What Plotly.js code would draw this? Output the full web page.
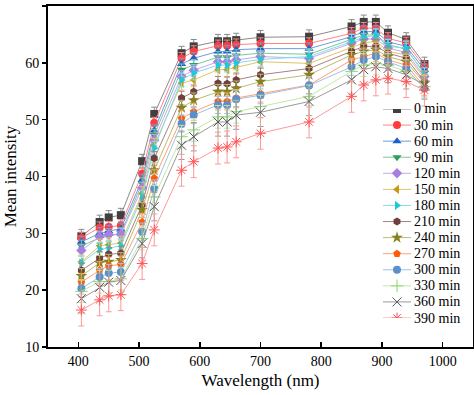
<!DOCTYPE html>
<html>
<head>
<meta charset="utf-8">
<script src="https://cdn.plot.ly/plotly-3.0.1.min.js"></script>
<style>html,body{margin:0;padding:0;background:#fff;}#chart{width:474px;height:395px;}</style>
</head>
<body>
<div id="chart"></div>
<script>
// ---- data ----
const wavelengths = [405,435,450,470,505,525,570,590,630,645,660,700,780,850,870,890,910,940,970];
const seriesNames = ["0 min","30 min","60 min","90 min","120 min","150 min","180 min","210 min","240 min","270 min","300 min","330 min","360 min","390 min"];
const s0   = [29.5,32.0,32.8,33.2,42.7,51.0,61.7,62.9,63.8,63.8,64.0,64.5,64.6,66.4,67.2,67.2,65.3,64.1,59.8];
const s30  = [29.2,31.0,31.1,31.4,40.5,49.4,60.8,62.0,63.0,63.0,63.2,63.4,63.4,65.2,66.1,66.1,64.3,63.5,59.3];
const s60  = [28.5,30.0,30.4,30.8,39.4,48.1,59.8,60.8,62.0,62.0,62.3,62.5,62.5,64.6,65.5,65.5,63.7,62.9,58.8];
const s90  = [27.8,29.2,29.5,30.0,38.8,47.3,58.8,59.6,61.0,61.0,61.3,61.7,61.5,64.1,64.9,64.9,63.2,62.4,58.2];
const s120 = [27.0,29.4,29.8,29.8,38.0,46.4,57.6,58.7,60.2,60.2,60.5,61.1,60.8,63.5,64.2,64.2,62.6,61.8,57.6];
const s150 = [25.0,27.8,28.0,28.3,37.0,45.5,56.4,57.0,58.8,58.8,59.2,60.2,59.9,62.6,63.5,63.8,62.0,61.4,57.3];
const s180 = [24.8,27.2,27.4,27.8,36.4,45.0,57.0,58.2,59.6,59.6,60.0,60.6,61.1,63.8,64.5,64.8,62.9,62.6,57.9];
const s210 = [23.5,25.6,26.3,26.5,35.0,43.2,53.8,54.9,56.4,56.3,57.0,57.9,59.0,62.0,62.9,62.9,61.7,60.8,56.7];
const s240 = [22.5,24.8,25.0,25.3,34.1,41.1,52.1,53.4,54.9,54.9,55.5,56.7,57.9,61.4,62.0,62.3,61.1,60.2,56.4];
const s270 = [21.4,23.5,24.3,24.5,32.0,39.7,50.2,51.4,53.2,53.2,53.8,54.6,56.1,60.5,61.1,61.7,60.5,59.6,55.8];
const s300 = [20.3,22.3,23.0,23.2,30.3,37.9,49.3,50.8,52.6,52.6,53.6,54.3,56.0,59.3,60.5,61.1,60.2,59.0,55.5];
const s330 = [19.8,21.5,21.5,22.0,29.1,36.4,47.0,48.2,50.5,50.5,51.4,52.3,54.1,58.5,59.6,59.9,59.6,58.5,55.8];
const s360 = [18.5,20.5,21.4,21.7,28.2,34.7,45.5,47.0,49.6,49.6,50.8,51.3,53.2,57.0,58.8,59.3,59.0,57.9,56.1];
const s390 = [16.5,18.3,19.0,19.2,24.7,30.6,41.1,42.6,45.0,45.2,46.1,47.6,49.6,54.1,56.1,57.0,57.3,56.7,55.2];
const errSizes = [1.2,1.0,1.0,1.0,1.0,1.2,1.2,1.2,1.3,1.5,1.5,2.0,2.5,2.8];

// ---- styles ----
const FONT = '"Liberation Serif", "Times New Roman", Times, serif';
const allSeries = [s0,s30,s60,s90,s120,s150,s180,s210,s240,s270,s300,s330,s360,s390];
const markerColors = ["#404040","#ff3b3b","#1a5fd1","#2e9e5e","#a67fe0","#c9980b","#1ec8d8","#6e3f3f","#85831f","#ff5b0d","#5a8fcc","#8ed66d","#555555","#ff5555"];
const lineColors   = ["#8a8a8a","#ff8585","#6f9be0","#7fc59a","#c5a8ee","#e0c468","#7fdfe8","#a98080","#bdbb70","#ffa070","#a0c0e5","#bfe8aa","#9a9a9a","#ff9999"];
const symbols = ["square","circle","triangle-up","triangle-down","diamond","triangle-left","triangle-right","hexagon","star","pentagon","circle","cross-thin-open","x-thin-open","asterisk-open"];
const sizes = [8,8,8,8,8,8,8,8,9,8,8,9,9,9];
const thin = [false,false,false,false,false,false,false,false,false,false,false,true,true,true];

const traces = [];
allSeries.forEach((ys, i) => {
  traces.push({
    x: wavelengths, y: ys, type: 'scatter', mode: 'lines+markers', name: seriesNames[i],
    showlegend: false,
    line: {color: lineColors[i], width: 1},
    marker: {symbol: symbols[i], size: sizes[i], color: markerColors[i],
             line: {width: thin[i] ? 1 : 0, color: markerColors[i]}},
    error_y: {type: 'constant', value: errSizes[i], color: lineColors[i], thickness: 1, width: 3}
  });
});
// custom legend drawn on an auxiliary axis pair
allSeries.forEach((ys, i) => {
  traces.push({
    x: [0, 1], y: [i, i], xaxis: 'x2', yaxis: 'y2', type: 'scatter', mode: 'lines',
    showlegend: false, hoverinfo: 'skip',
    line: {color: lineColors[i], width: 1}
  });
  traces.push({
    x: [0.5], y: [i], xaxis: 'x2', yaxis: 'y2', type: 'scatter', mode: 'markers',
    showlegend: false, hoverinfo: 'skip',
    marker: {symbol: symbols[i], size: sizes[i], color: markerColors[i],
             line: {width: thin[i] ? 1 : 0, color: markerColors[i]}}
  });
});

const annotations = seriesNames.map((n, i) => ({
  x: 1, y: i, xref: 'x2', yref: 'y2', text: n, showarrow: false,
  xanchor: 'left', yanchor: 'middle', xshift: 1,
  font: {family: FONT, size: 14, color: '#000'}
}));

const W = 474, H = 395, L = 48, R = 1, T = 6, B = 48;
const pw = W - L - R, ph = H - T - B;
const px = v => (v - L) / pw;
const py = v => (H - B - v) / ph;

const layout = {
  width: W, height: H,
  margin: {l: L, r: R, t: T, b: B, pad: 0},
  paper_bgcolor: '#fff', plot_bgcolor: '#fff',
  font: {family: FONT, size: 14, color: '#000'},
  showlegend: false,
  xaxis: {
    range: [350, 1050], tick0: 400, dtick: 100, tickmode: 'linear',
    showgrid: false, zeroline: false,
    showline: true, linecolor: '#000', linewidth: 2, mirror: true,
    ticks: 'inside', ticklen: 5, tickwidth: 1.5, tickcolor: '#000',
    tickfont: {family: FONT, size: 14},
    title: {text: 'Wavelength (nm)', font: {family: FONT, size: 17}, standoff: 6}
  },
  yaxis: {
    range: [10, 70], tick0: 10, dtick: 10, tickmode: 'linear',
    showgrid: false, zeroline: false,
    showline: true, linecolor: '#000', linewidth: 2, mirror: true,
    ticks: 'outside', ticklen: 4, tickwidth: 1.5, tickcolor: '#000',
    tickfont: {family: FONT, size: 14},
    title: {text: 'Mean intensity', font: {family: FONT, size: 17}, standoff: 4}
  },
  xaxis2: {domain: [px(383), px(411)], range: [0, 1], anchor: 'y2', visible: false, fixedrange: true},
  yaxis2: {domain: [py(318), py(109)], range: [13, 0], anchor: 'x2', visible: false, fixedrange: true},
  annotations: annotations
};

Plotly.newPlot('chart', traces, layout, {displayModeBar: false, staticPlot: true});
</script>
</body>
</html>
